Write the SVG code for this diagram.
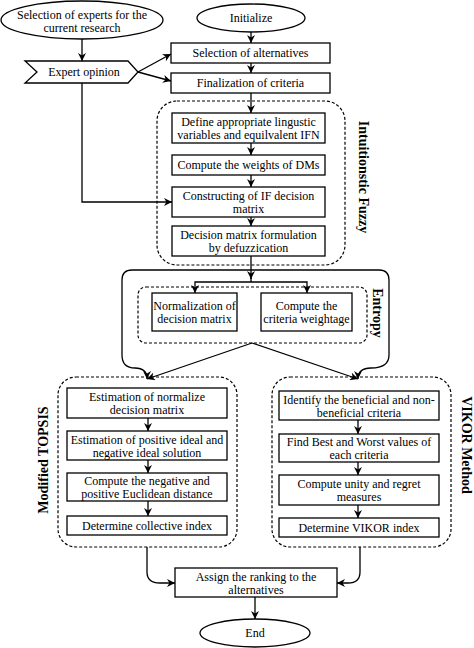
<svg xmlns="http://www.w3.org/2000/svg" width="474" height="648" viewBox="0 0 474 648">
<style>
text{font-family:"Liberation Serif","Times New Roman",serif;font-size:12px;fill:#000;text-anchor:middle}
.lbl{font-weight:bold;font-size:14px}
.box{fill:#fff;stroke:#000;stroke-width:1.3}
.dash{fill:none;stroke:#000;stroke-width:1.2;stroke-dasharray:3,2}
.ln{fill:none;stroke:#000;stroke-width:1.3}
</style>
<defs>
<marker id="ah" viewBox="0 0 10 10" refX="10" refY="5" markerWidth="9" markerHeight="8" markerUnits="userSpaceOnUse" orient="auto-start-reverse">
<path d="M0,0 L10,5 L0,10 L3,5 Z" fill="#000"/>
</marker>
</defs>
<rect width="474" height="648" fill="#fff"/>

<g id="groups">
<rect id="if-group" class="dash" x="157" y="101" width="188" height="164" rx="20"/>
<rect id="entropy-group" class="dash" x="138" y="287" width="229" height="56" rx="8"/>
<rect id="topsis-group" class="dash" x="58" y="377" width="179" height="170" rx="18"/>
<rect id="vikor-group" class="dash" x="272" y="377" width="179" height="170" rx="18"/>
<text class="lbl" transform="translate(358.5,177) rotate(90)">Intuitionstic Fuzzy</text>
<text class="lbl" transform="translate(373,313) rotate(90)">Entropy</text>
<text class="lbl" transform="translate(462,445) rotate(90)">VIKOR Method</text>
<text class="lbl" transform="translate(48,460) rotate(-90)">Modified TOPSIS</text>
</g>

<g id="connectors">
<path class="ln" d="M82,39 V61" marker-end="url(#ah)"/>
<path class="ln" d="M138,72 L171,54" marker-end="url(#ah)"/>
<path class="ln" d="M138,72 L171,81" marker-end="url(#ah)"/>
<path class="ln" d="M82,83 V202 H172" marker-end="url(#ah)"/>
<path class="ln" d="M251,32 V43" marker-end="url(#ah)"/>
<path class="ln" d="M251,63 V73" marker-end="url(#ah)"/>
<path class="ln" d="M251,93 V113" marker-end="url(#ah)"/>
<path class="ln" d="M251,143 V155" marker-end="url(#ah)"/>
<path class="ln" d="M251,175 V187" marker-end="url(#ah)"/>
<path class="ln" d="M251,217 V226" marker-end="url(#ah)"/>
<path class="ln" d="M251,256 V279" marker-end="url(#ah)"/>
<path class="ln" d="M251,277 V282"/>
<path class="ln" d="M195,293 V282 H307 V293" marker-start="url(#ah)" marker-end="url(#ah)"/>
<path class="ln" d="M147,379 Q147,368 135,368 Q122,368 122,355 V280 Q122,270 132,270 H379 Q389,270 389,280 V355 Q389,368 371,368 Q358,368 358,379" marker-start="url(#ah)" marker-end="url(#ah)"/>
<path class="ln" d="M252,343 L147,379" marker-end="url(#ah)"/>
<path class="ln" d="M252,343 L358,379" marker-end="url(#ah)"/>
<path class="ln" d="M148,418 V431" marker-end="url(#ah)"/>
<path class="ln" d="M148,460 V473" marker-end="url(#ah)"/>
<path class="ln" d="M148,501 V516" marker-end="url(#ah)"/>
<path class="ln" d="M358,420 V434" marker-end="url(#ah)"/>
<path class="ln" d="M358,462 V475" marker-end="url(#ah)"/>
<path class="ln" d="M358,505 V518" marker-end="url(#ah)"/>
<path class="ln" d="M147,547 V572 Q147,583 160,583 H175" marker-end="url(#ah)"/>
<path class="ln" d="M360,547 V572 Q360,583 348,583 H337" marker-end="url(#ah)"/>
<path class="ln" d="M255,597 V619" marker-end="url(#ah)"/>
</g>

<g id="experts"><ellipse class="box" cx="82" cy="20" rx="81" ry="19"/><text x="82" y="19">Selection of experts for the</text><text x="82" y="32">current research</text></g>
<g id="initialize"><ellipse class="box" cx="251" cy="18" rx="54" ry="14"/><text x="251" y="22">Initialize</text></g>
<g id="expert-opinion"><path class="box" d="M25,61 H128 L138,72 L128,83 H25 L37,72 Z"/><text x="84" y="76">Expert opinion</text></g>
<g id="sel-alt"><rect class="box" x="171" y="43" width="159" height="20"/><text x="250.5" y="57">Selection of alternatives</text></g>
<g id="fin-crit"><rect class="box" x="171" y="73" width="159" height="20"/><text x="250.5" y="87">Finalization of criteria</text></g>
<g id="ifn"><rect class="box" x="172" y="113" width="153" height="30"/><text x="248.5" y="126">Define appropriate lingustic</text><text x="248.5" y="139">variables and equilvalent IFN</text></g>
<g id="dms"><rect class="box" x="172" y="155" width="153" height="20"/><text x="248.5" y="169">Compute the weights of DMs</text></g>
<g id="ifdm"><rect class="box" x="172" y="187" width="153" height="30"/><text x="248.5" y="200">Constructing of IF decision</text><text x="248.5" y="213">matrix</text></g>
<g id="defuzz"><rect class="box" x="172" y="226" width="153" height="30"/><text x="248.5" y="239">Decision matrix formulation</text><text x="248.5" y="252">by defuzzication</text></g>
<g id="norm"><rect class="box" x="152" y="293" width="85" height="38"/><text x="194.5" y="310">Normalization of</text><text x="194.5" y="323">decision matrix</text></g>
<g id="weight"><rect class="box" x="261" y="293" width="91" height="38"/><text x="306.5" y="310">Compute the</text><text x="306.5" y="323">criteria weightage</text></g>
<g id="t1"><rect class="box" x="67" y="388" width="160" height="30"/><text x="147" y="401">Estimation of normalize</text><text x="147" y="414">decision matrix</text></g>
<g id="t2"><rect class="box" x="67" y="431" width="160" height="29"/><text x="147" y="443.5">Estimation of positive ideal and</text><text x="147" y="456.5">negative ideal solution</text></g>
<g id="t3"><rect class="box" x="67" y="473" width="160" height="28"/><text x="147" y="485">Compute the negative and</text><text x="147" y="498">positive Euclidean distance</text></g>
<g id="t4"><rect class="box" x="67" y="516" width="160" height="19"/><text x="147" y="529.5">Determine collective index</text></g>
<g id="v1"><rect class="box" x="279" y="391" width="160" height="29"/><text x="359" y="403.5">Identify the beneficial and non-</text><text x="359" y="416.5">beneficial criteria</text></g>
<g id="v2"><rect class="box" x="279" y="434" width="160" height="28"/><text x="359" y="446">Find Best and Worst values of</text><text x="359" y="459">each criteria</text></g>
<g id="v3"><rect class="box" x="279" y="475" width="160" height="30"/><text x="359" y="488">Compute unity and regret</text><text x="359" y="501">measures</text></g>
<g id="v4"><rect class="box" x="279" y="518" width="160" height="19"/><text x="359" y="531.5">Determine VIKOR index</text></g>
<g id="assign"><rect class="box" x="175" y="568" width="162" height="29"/><text x="256" y="580.5">Assign the ranking to the</text><text x="256" y="593.5">alternatives</text></g>
<g id="end"><ellipse class="box" cx="255" cy="633" rx="55" ry="14"/><text x="255" y="637">End</text></g>
</svg>
